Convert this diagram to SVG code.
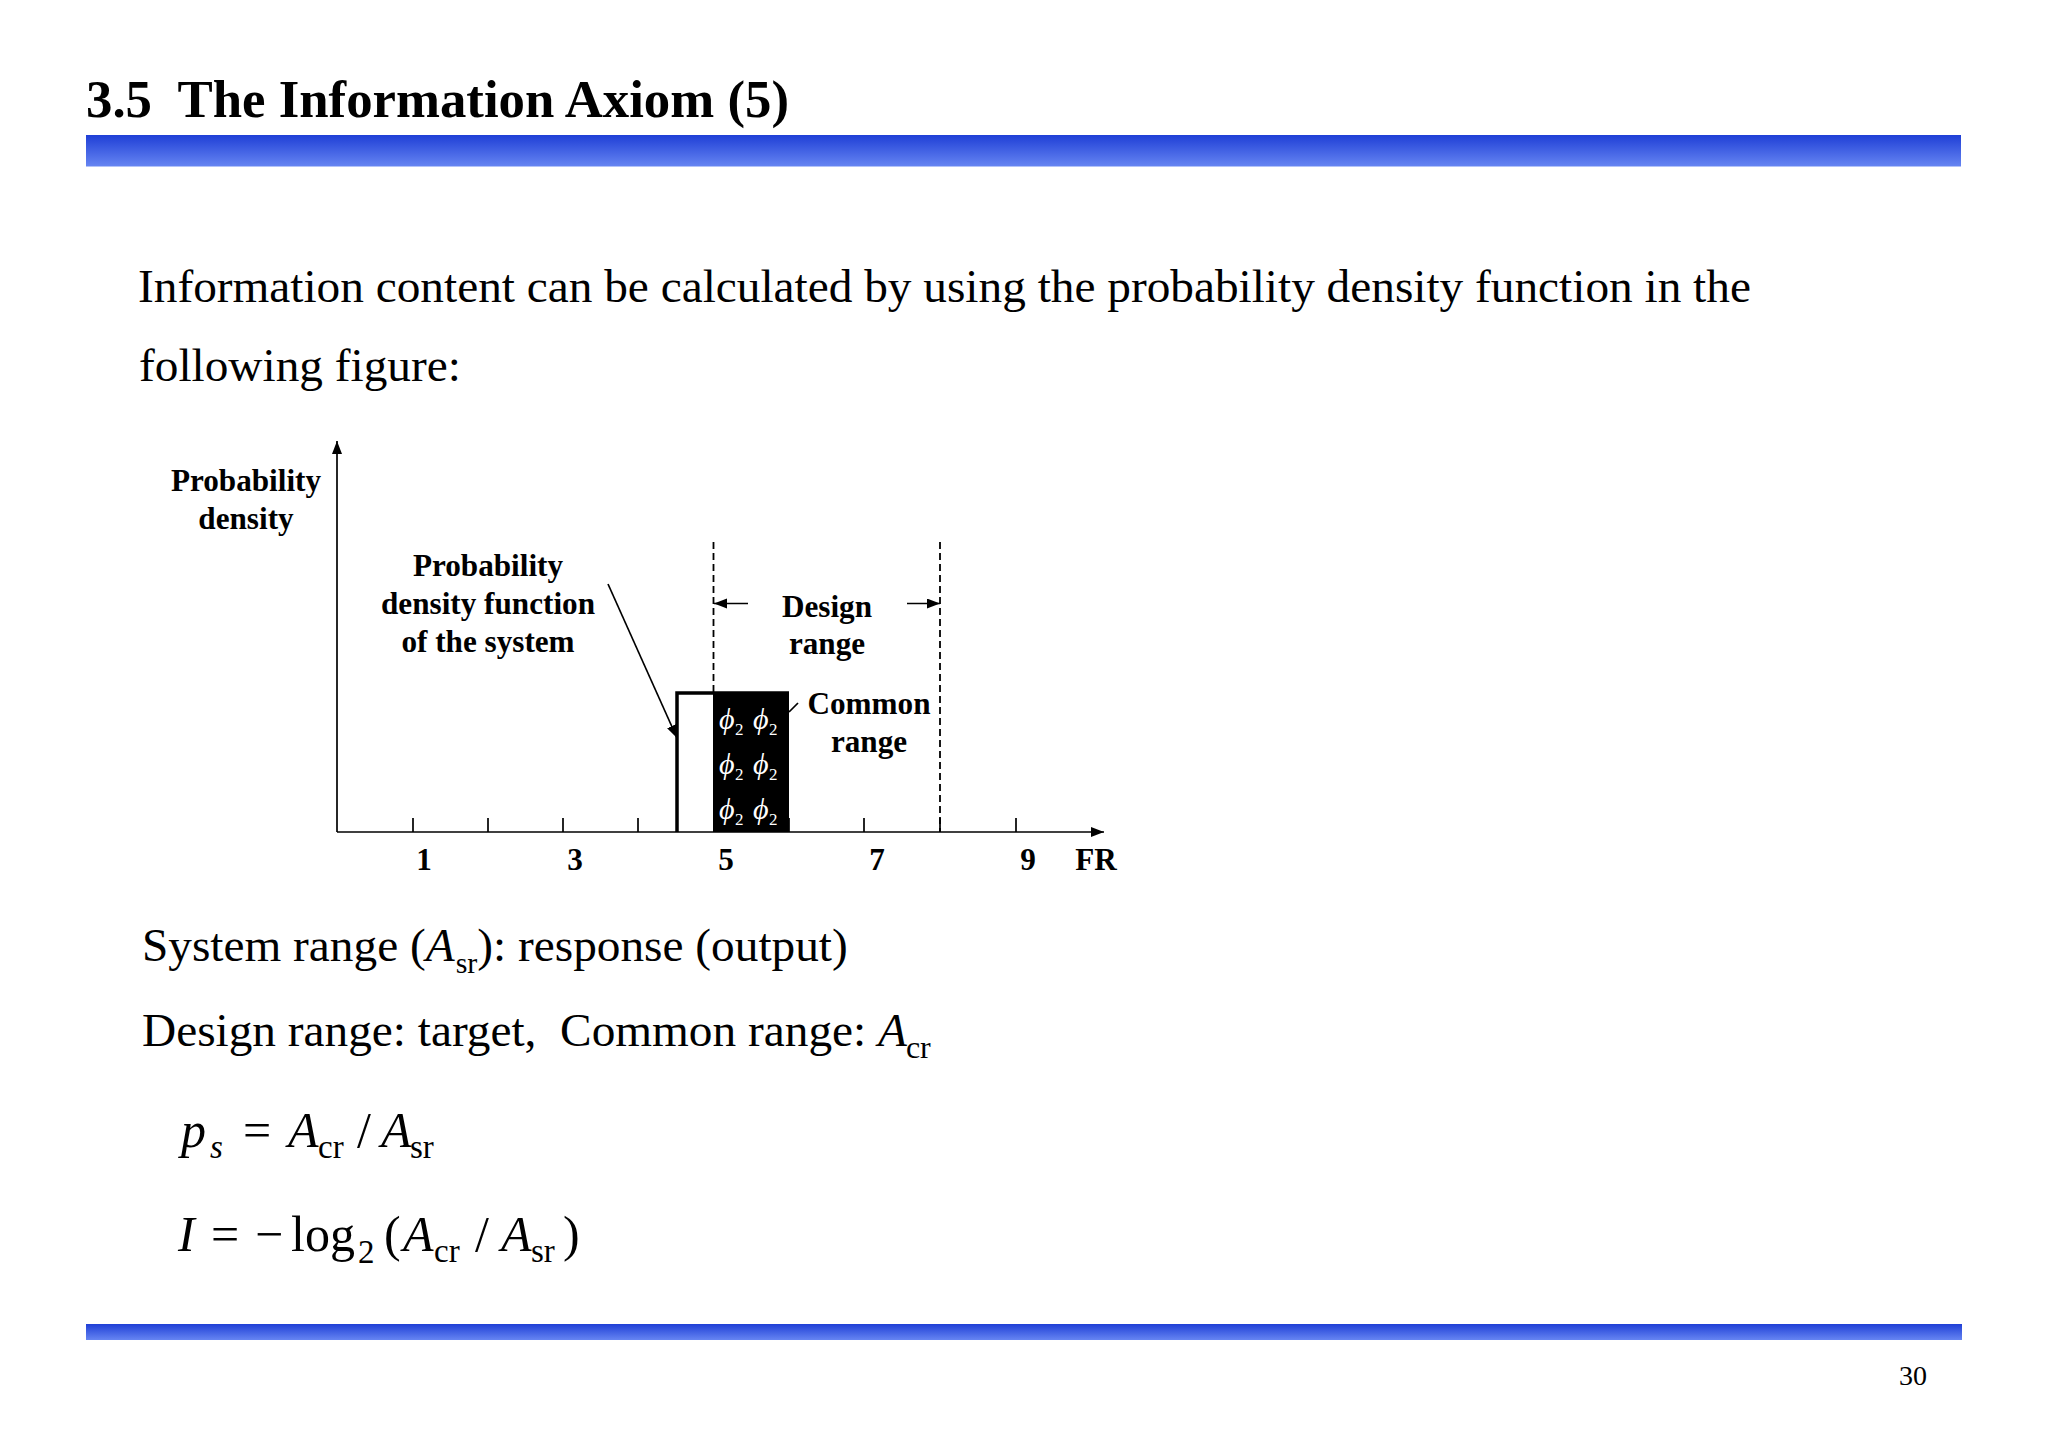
<svg xmlns="http://www.w3.org/2000/svg" width="2048" height="1448" viewBox="0 0 2048 1448">
<style>
text{font-family:"Liberation Serif","Times New Roman",serif;fill:#000}
.t{font-size:52.800px;font-weight:bold}
.b{font-size:47.300px}
.f{font-size:31.200px;font-weight:bold}
.m{font-size:50px}
.i{font-style:italic}
.s{font-size:33px}
.p{font-size:30px;font-style:italic;fill:#fff}
.p2{font-size:17px;fill:#fff}
.l{stroke:#000;fill:none;stroke-width:1.700}
.d{stroke:#000;fill:none;stroke-width:1.800;stroke-dasharray:7 4}
</style>
<defs>
<linearGradient id="g" x1="0" y1="0" x2="0" y2="1"><stop offset="0" stop-color="#1f3fd6"/><stop offset="1" stop-color="#6685f2"/></linearGradient>
<marker id="a" markerUnits="userSpaceOnUse" markerWidth="14" markerHeight="12" refX="13" refY="5" orient="auto"><path d="M0 0L13 5L0 10z" fill="#000"/></marker>
<g id="ph"><text class="p" x="-14" y="-5">ϕ</text><text class="p2" x="2" y="1">2</text></g>
</defs>
<rect width="2048" height="1448" fill="#fff"/>
<g id="header">
<text class="t" x="86" y="117" xml:space="preserve">3.5  The Information Axiom (5)</text>
<rect x="86" y="135" width="1875" height="31.500" fill="url(#g)"/>
</g>
<g id="body">
<text class="b" x="138" y="302">Information content can be calculated by using the probability density function in the</text>
<text class="b" x="139" y="381">following figure:</text>
<text class="b" x="142" y="961">System range (<tspan class="i">A</tspan><tspan font-size="30" dy="12" dx="1">sr</tspan><tspan dy="-12">): response (output)</tspan></text>
<text class="b" x="142" y="1046" xml:space="preserve">Design range: target,  Common range: <tspan class="i">A</tspan><tspan font-size="32" dy="12" dx="-1">cr</tspan></text>
</g>
<g id="chart">
<rect x="713" y="693" width="76" height="139" fill="#000"/>
<use href="#ph" x="733" y="734"/><use href="#ph" x="767" y="734"/>
<use href="#ph" x="733" y="779"/><use href="#ph" x="767" y="779"/>
<use href="#ph" x="733" y="824"/><use href="#ph" x="767" y="824"/>
<path d="M677 832V693H789" fill="none" stroke="#000" stroke-width="3.500"/>
</g>
<g id="connectors">
<path class="l" d="M337 832V441" marker-end="url(#a)"/>
<path class="l" d="M337 832H1104" marker-end="url(#a)"/>
<path class="l" d="M413 832V818M488 832V818M563 832V818M638 832V818M789 832V818M864 832V818M940 832V818M1016 832V818"/>
<path class="d" d="M713.500 542V693M940 542V832"/>
<path class="l" d="M748 603.500H714" marker-end="url(#a)"/>
<path class="l" d="M907 603.500H940" marker-end="url(#a)"/>
<path class="l" d="M608 584L677 738" marker-end="url(#a)"/>
<path class="l" d="M789 712L798 703"/>
</g>
<g id="chart-labels" text-anchor="middle">
<text class="f" x="246" y="491">Probability</text>
<text class="f" x="246" y="529">density</text>
<text class="f" x="488" y="576">Probability</text>
<text class="f" x="488" y="614">density function</text>
<text class="f" x="488" y="652">of the system</text>
<text class="f" x="827" y="617">Design</text>
<text class="f" x="827" y="654">range</text>
<text class="f" x="869" y="714">Common</text>
<text class="f" x="869" y="752">range</text>
<text class="f" x="424" y="870">1</text>
<text class="f" x="575" y="870">3</text>
<text class="f" x="726" y="870">5</text>
<text class="f" x="877" y="870">7</text>
<text class="f" x="1028" y="870">9</text>
<text class="f" x="1096" y="870">FR</text>
</g>
<g id="formulas">
<text class="m i" x="181" y="1147" font-size="52">p</text>
<text class="s i" x="210" y="1158">s</text>
<text class="m" x="243" y="1147">=</text>
<text class="m i" x="288" y="1147">A</text><text class="s" x="318" y="1158">cr</text>
<text class="m" x="357" y="1147">/</text>
<text class="m i" x="381" y="1147">A</text><text class="s" x="410" y="1158">sr</text>
<text class="m i" x="178" y="1251">I</text>
<text class="m" x="211" y="1251">=</text>
<text class="m" x="255" y="1251">−</text>
<text class="m" x="291" y="1251">log</text>
<text class="s" x="358" y="1263">2</text>
<text class="m" x="384" y="1251" font-size="54">(</text>
<text class="m i" x="403" y="1251">A</text><text class="s" x="434" y="1262">cr</text>
<text class="m" x="475" y="1251">/</text>
<text class="m i" x="501" y="1251">A</text><text class="s" x="531" y="1262">sr</text>
<text class="m" x="563" y="1251" font-size="54">)</text>
</g>
<g id="footer">
<rect x="86" y="1324" width="1876" height="16" fill="url(#g)"/>
<text x="1899" y="1385" font-size="28">30</text>
</g>
</svg>
